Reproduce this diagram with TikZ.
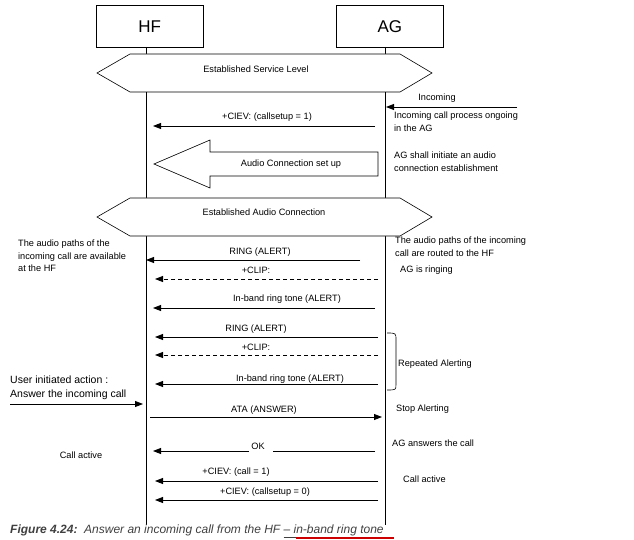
\documentclass[tikz,border=0pt]{standalone}
\usepackage{fontspec}
\setmainfont{Liberation Sans}
\usetikzlibrary{arrows.meta,decorations.pathreplacing}
\begin{document}
\begin{tikzpicture}[x=1pt,y=-1pt,
  msg/.style={draw,line width=0.9pt,-{Triangle[length=8pt,width=6pt]}},
  dmsg/.style={msg,dash pattern=on 4pt off 3pt},
  lbl/.style={font=\fontsize{9.2}{10}\selectfont,inner sep=0pt},
  txt/.style={font=\fontsize{9.2}{12.5}\selectfont,inner sep=0pt,anchor=north west,align=left},
  ent/.style={draw,line width=0.6pt,minimum width=107pt,minimum height=42pt,font=\fontsize{17}{17}\selectfont,anchor=north west},
  banner/.style={draw,line width=0.6pt,fill=white}]
\useasboundingbox (0,0) rectangle (634,540);
\node[ent] (hf) at (96,5) {HF};
\node[ent] (ag) at (336,5) {AG};
\coordinate (hfs) at (146,47); \coordinate (ags) at (385,47);
\coordinate (hfe) at (146,525);
\coordinate (age) at (385,525);
\draw[line width=0.6pt] (hfs) -- (hfe);
\draw[line width=0.6pt] (ags) -- (age);
% banners
\draw[banner] (97,73) -- (130,54) -- (400,54) -- (432,73) -- (400,92) -- (130,92) -- cycle;
\node[lbl] (b1) at (256,69) {Established Service Level};
\draw[banner] (97,217) -- (130,198) -- (400,198) -- (432,217) -- (400,236) -- (130,236) -- cycle;
\node[lbl] (b2) at (264,212) {Established Audio Connection};
% incoming
\coordinate (in1) at (517,107); \coordinate (in2) at (386,107);
\draw[msg] (in1) -- (in2);
\node[lbl] (inl) at (437,98) {Incoming};
\coordinate (a1) at (375,126); \coordinate (a2) at (153,126);
\draw[msg] (a1) -- (a2); \node[lbl] (a1l) at (267,117) {+CIEV: (callsetup = 1)};
\node[txt] (t1) at (394,112) {Incoming call process ongoing\\in the AG};
% big arrow
\draw[line width=0.6pt] (378,152) -- (210,152) -- (210,140) -- (154,164) -- (210,188) -- (210,176) -- (378,176) -- cycle;
\node[lbl] (acs) at (291,164) {Audio Connection set up};
\node[txt] (t2) at (394,152) {AG shall initiate an audio\\connection establishment};
% alerting
\node[txt] (t3) at (18,240) {The audio paths of the\\incoming call are available\\at the HF};
\node[txt] (t4) at (395,237) {The audio paths of the incoming\\call are routed to the HF};
\node[txt] (t5) at (400,266) {AG is ringing};
\coordinate (r1a) at (360,260); \coordinate (r1b) at (146,260);
\draw[msg] (r1a) -- (r1b); \node[lbl] (r1l) at (260,252) {RING (ALERT)};
\coordinate (c1a) at (378,279); \coordinate (c1b) at (155,279);
\draw[dmsg] (c1a) -- (c1b); \node[lbl] (c1l) at (256,270) {+CLIP:};
\coordinate (i1a) at (375,308); \coordinate (i1b) at (153,308);
\draw[msg] (i1a) -- (i1b); \node[lbl] (i1l) at (287,299) {In-band ring tone (ALERT)};
\coordinate (r2a) at (378,337); \coordinate (r2b) at (155,337);
\draw[msg] (r2a) -- (r2b); \node[lbl] (r2l) at (256,329) {RING (ALERT)};
\coordinate (c2a) at (378,355); \coordinate (c2b) at (155,355);
\draw[dmsg] (c2a) -- (c2b); \node[lbl] (c2l) at (256,347) {+CLIP:};
\coordinate (i2a) at (378,384); \coordinate (i2b) at (155,384);
\draw[msg] (i2a) -- (i2b); \node[lbl] (i2l) at (290,379) {In-band ring tone (ALERT)};
\draw[line width=0.6pt] (387,333) .. controls (396,333) .. (396,340) -- (396,384) .. controls (396,390) .. (387,390);
\node[txt] (t6) at (398,360) {Repeated Alerting};
\node[txt,font=\fontsize{10.5}{14}\selectfont] (t7) at (10,376) {User initiated action :\\Answer the incoming call};
\coordinate (u1) at (10,404); \coordinate (u2) at (143,404);
\draw[msg] (u1) -- (u2);
\coordinate (ata1) at (150,417); \coordinate (ata2) at (382,417);
\draw[msg] (ata1) -- (ata2); \node[lbl] (atal) at (264,410) {ATA (ANSWER)};
\node[txt] (t8) at (396,405) {Stop Alerting};
% OK
\node[lbl] (ok) at (258,446) {OK};
\coordinate (ok1) at (375,451); \coordinate (ok2) at (153,451);
\draw[line width=0.9pt] (ok1) -- (273,451);
\draw[msg] (249,451) -- (ok2);
\node[txt] (t9) at (392,440) {AG answers the call};
\node[lbl] (ca1) at (81,455) {Call active};
\coordinate (e1) at (378,481); \coordinate (e2) at (155,481);
\draw[msg] (e1) -- (e2); \node[lbl] (e1l) at (236,472) {+CIEV: (call = 1)};
\node[txt] (t10) at (403,476) {Call active};
\coordinate (f1) at (378,500); \coordinate (f2) at (155,500);
\draw[msg] (f1) -- (f2); \node[lbl] (f1l) at (265,492) {+CIEV: (callsetup = 0)};
% caption
\node[inner sep=0pt,anchor=base west,font=\fontsize{12}{12}\selectfont\itshape,text=black!75] (cap) at (10,533) {\textbf{Figure 4.24:}\ \ Answer an incoming call from the HF \underline{– in-band ring tone}};
\coordinate (ul1) at (296,538); \coordinate (ul2) at (394,538);
\draw[red!80!black,line width=1.5pt] (ul1) -- (ul2);
\end{tikzpicture}
\end{document}
